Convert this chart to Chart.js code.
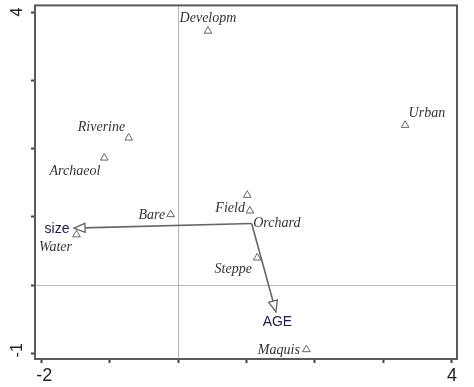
<!DOCTYPE html>
<html><head><meta charset="utf-8">
<script src="https://cdn.jsdelivr.net/npm/chart.js@4/dist/chart.umd.min.js"></script>
<style>html,body{margin:0;padding:0;background:#fff}#wrap{width:474px;height:387px}</style>
</head><body><div id="wrap"><canvas id="c" width="474" height="387"></canvas></div>
<script>
// ---- data ----
const sampleNames = ['Developm','Riverine','Archaeol','Urban','Field','Orchard','Bare','Water','Steppe','Maquis'];
const sampleX = [0.435, -0.726, -1.083, 3.322, 1.049, 1.010, -0.111, -1.490, 1.156, 1.876];
const sampleY = [3.723,  2.157,  1.864, 2.343, 1.088, 1.318,  1.035,  0.739, 0.400, -0.944];
const arrowNames = ['size', 'AGE'];
const arrowOriginX = 1.075;
const arrowOriginY = 0.903;
const arrowX = [-1.526, 1.430];
const arrowY = [0.835, -0.391];
const xTicks = [-2, -1, 0, 1, 2, 3, 4];
const yTicks = [-1, 0, 1, 2, 3, 4];
const xTickLabels = ['-2', '4'];
const yTickLabels = ['-1', '4'];

// ---- layout / style (not data) ----
const labelPlace = [ // [align, dx, dy] in px relative to point
  ['center', 0, -12.5], ['right', -3.5, -10.5], ['right', -4, 13.3], ['left', 3.5, -12],
  ['right', -5, -2.4], ['left', 6, 27.7], ['right', -5.5, 0.7], ['right', -4.5, 12.8],
  ['right', -5.3, 11.8], ['right', -6.5, 0.5]
];
const arrowLabelPlace = [[-17, 1.5], [1.5, 10]];

const pts = sampleX.map((x, i) => ({x: x, y: sampleY[i]}));
const arrowSets = arrowNames.map((n, i) => ({
  label: n,
  data: [{x: arrowOriginX, y: arrowOriginY}, {x: arrowX[i], y: arrowY[i]}],
  showLine: true, pointRadius: 0, borderColor: '#666', borderWidth: 1.6, fill: false
}));

const overlay = {
  id: 'overlay',
  afterDatasetsDraw(chart) {
    const ctx = chart.ctx, xs = chart.scales.x, ys = chart.scales.y, a = chart.chartArea;
    ctx.save();
    // arrowheads + arrow labels
    arrowNames.forEach((n, i) => {
      const ox = xs.getPixelForValue(arrowOriginX), oy = ys.getPixelForValue(arrowOriginY);
      const tx = xs.getPixelForValue(arrowX[i]), ty = ys.getPixelForValue(arrowY[i]);
      const ang = Math.atan2(ty - oy, tx - ox);
      const L = 11, W = 4.5;
      const bx = tx - L * Math.cos(ang), by = ty - L * Math.sin(ang);
      const px = -Math.sin(ang) * W, py = Math.cos(ang) * W;
      ctx.beginPath();
      ctx.moveTo(tx, ty); ctx.lineTo(bx + px, by + py); ctx.lineTo(bx - px, by - py); ctx.closePath();
      ctx.fillStyle = '#fff'; ctx.fill();
      ctx.strokeStyle = '#666'; ctx.lineWidth = 1.3; ctx.stroke();
      ctx.fillStyle = '#1c1c4e';
      ctx.font = '14px "Liberation Sans", Arial, sans-serif';
      ctx.textAlign = 'center'; ctx.textBaseline = 'middle';
      ctx.fillText(n, tx + arrowLabelPlace[i][0], ty + arrowLabelPlace[i][1]);
    });
    // sample labels
    ctx.font = 'italic 14px "Liberation Serif", "Times New Roman", serif';
    ctx.fillStyle = '#333';
    ctx.textBaseline = 'middle';
    sampleNames.forEach((n, i) => {
      const p = labelPlace[i];
      ctx.textAlign = p[0];
      ctx.fillText(n, xs.getPixelForValue(sampleX[i]) + p[1], ys.getPixelForValue(sampleY[i]) + p[2]);
    });
    // frame
    ctx.strokeStyle = '#5a5a5a'; ctx.lineWidth = 2;
    ctx.strokeRect(a.left, a.top, a.right - a.left, a.bottom - a.top);
    // tick labels
    ctx.fillStyle = '#222';
    ctx.font = '18px "Liberation Sans", Arial, sans-serif';
    ctx.textAlign = 'center'; ctx.textBaseline = 'middle';
    const xdx = [2.5, 0.5];
    xTickLabels.forEach((t, i) => {
      ctx.fillText(t, xs.getPixelForValue(Number(t)) + xdx[i], 376);
    });
    ctx.font = '16px "Liberation Sans", Arial, sans-serif';
    const ydy = [-3, 0];
    yTickLabels.forEach((t, i) => {
      ctx.save();
      ctx.translate(18, ys.getPixelForValue(Number(t)) + ydy[i]);
      ctx.rotate(-Math.PI / 2);
      ctx.fillText(t, 0, 0);
      ctx.restore();
    });
    ctx.restore();
  }
};

const gridColor = c => (c.tick && c.tick.value === 0) ? '#b8b8b8' : 'rgba(0,0,0,0)';

new Chart(document.getElementById('c'), {
  type: 'scatter',
  data: {
    datasets: [
      {label: 'samples', data: pts, pointStyle: 'triangle', pointRadius: 4.4,
       borderColor: '#666', backgroundColor: 'rgba(0,0,0,0)', borderWidth: 1, showLine: false},
      ...arrowSets
    ]
  },
  options: {
    responsive: false, animation: false, devicePixelRatio: 1,
    layout: {padding: {top: 5, right: 17, left: 0, bottom: 0}},
    plugins: {legend: {display: false}, tooltip: {enabled: false}},
    scales: {
      x: {
        type: 'linear', min: -2.098, max: 4.082,
        afterBuildTicks: s => { s.ticks = xTicks.map(v => ({value: v})); },
        afterFit: s => { s.height = 28; },
        border: {display: false},
        grid: {color: gridColor, lineWidth: 1, tickColor: '#444', tickLength: 4, tickWidth: 2, drawTicks: true},
        ticks: {display: false}
      },
      y: {
        type: 'linear', min: -1.083, max: 4.098,
        afterBuildTicks: s => { s.ticks = yTicks.map(v => ({value: v})); },
        afterFit: s => { s.width = 35; },
        border: {display: false},
        grid: {color: gridColor, lineWidth: 1, tickColor: '#444', tickLength: 4, tickWidth: 2, drawTicks: true},
        ticks: {display: false}
      }
    }
  },
  plugins: [overlay]
});
</script></body></html>
